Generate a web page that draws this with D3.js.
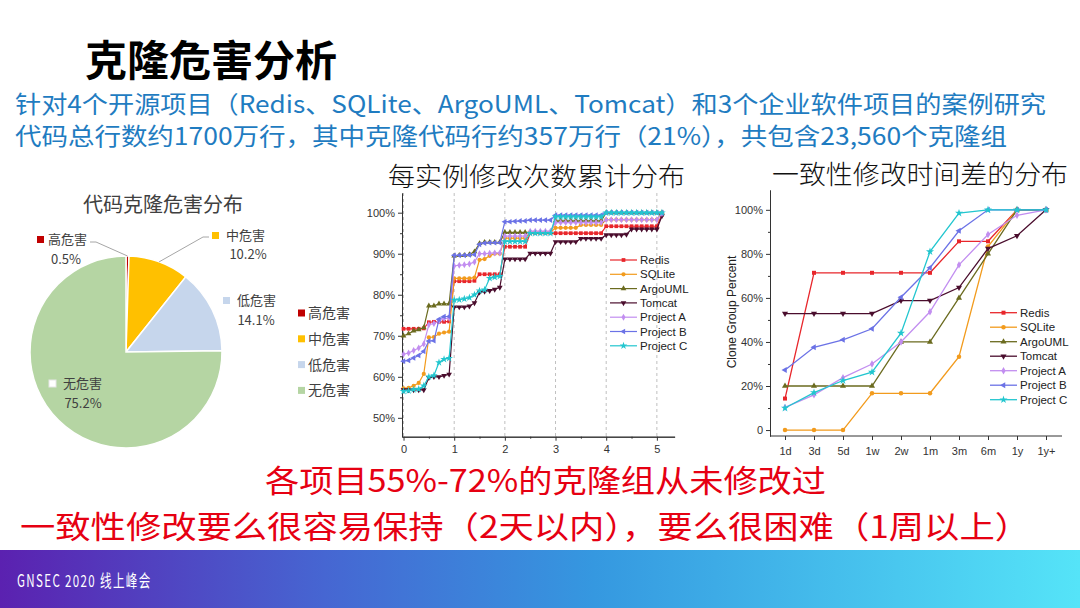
<!DOCTYPE html>
<html>
<head>
<meta charset="utf-8">
<script src="https://cdn.jsdelivr.net/npm/d3@7"></script>
<style>
body { margin: 0; background: #fff; }
svg { display: block; }
</style>
</head>
<body>
<svg id="slide" width="1080" height="608"></svg>
<script>
// ---- pie: harm distribution ----
var harmLevels = ["高危害", "中危害", "低危害", "无危害"];
var harmShare = [0.5, 10.2, 14.1, 75.2];
var harmColors = ["#c00000", "#ffc000", "#c6d6ec", "#b5d5a3"];

// ---- cumulative modifications per instance ----
var projects = ["Redis", "SQLite", "ArgoUML", "Tomcat", "Project A", "Project B", "Project C"];
var projColors = ["#e8262b", "#f29b1d", "#6b6b1f", "#4a0d2d", "#c28ef0", "#6b72e6", "#22c6cf"];
var editCount = [0, 0.1, 0.2, 0.3, 0.4, 0.5, 0.6, 0.7, 0.8, 0.9,
                 1, 1.1, 1.2, 1.3, 1.4, 1.5, 1.6, 1.7, 1.8, 1.9,
                 2, 2.1, 2.2, 2.3, 2.4, 2.5, 2.6, 2.7, 2.8, 2.9,
                 3, 3.1, 3.2, 3.3, 3.4, 3.5, 3.6, 3.7, 3.8, 3.9,
                 4, 4.1, 4.2, 4.3, 4.4, 4.5, 4.6, 4.7, 4.8, 4.9,
                 5, 5.1];
var redisCum = [71.7, 71.7, 71.7, 71.7, 71.8, 73.3, 73.4, 73.4, 73.4, 73.5,
                83.3, 83.3, 83.3, 83.3, 83.4, 85.0, 85.0, 85.0, 85.0, 85.0,
                91.7, 91.7, 91.7, 91.7, 91.7, 95.0, 95.0, 95.0, 95.0, 95.0,
                95.0, 95.0, 95.0, 95.0, 95.0, 95.0, 95.0, 95.0, 95.0, 95.0,
                96.7, 96.7, 96.7, 96.7, 96.7, 96.7, 96.7, 96.7, 96.7, 96.7,
                96.7, 99.5];
var sqliteCum = [57.2, 57.3, 57.8, 58.5, 60.7, 69.6, 69.7, 70.5, 70.8, 71.0,
                 84.0, 84.0, 84.0, 84.0, 84.2, 88.5, 88.7, 89.5, 90.0, 90.0,
                 93.8, 93.8, 93.8, 93.8, 93.8, 95.2, 95.2, 95.2, 95.2, 95.2,
                 96.3, 96.3, 96.3, 96.3, 96.3, 97.0, 97.0, 97.0, 97.0, 97.0,
                 98.3, 98.3, 98.3, 98.3, 98.3, 98.3, 98.3, 98.3, 98.3, 98.3,
                 98.3, 100];
var argoCum = [70.0, 70.5, 71.2, 71.5, 72.0, 77.3, 77.3, 77.8, 77.8, 77.8,
               89.5, 89.6, 89.6, 89.8, 90.5, 92.5, 92.8, 92.8, 92.8, 92.8,
               95.2, 95.2, 95.2, 95.2, 95.2, 95.2, 95.2, 95.2, 95.2, 95.2,
               98.0, 98.0, 98.0, 98.0, 98.0, 98.0, 98.0, 98.0, 98.0, 98.0,
               100, 100, 100, 100, 100, 100, 100, 100, 100, 100,
               100, 100];
var tomcatCum = [56.8, 56.8, 56.8, 56.8, 56.8, 59.8, 60.0, 60.0, 60.3, 60.6,
                 77.0, 77.0, 77.0, 77.2, 78.0, 80.6, 80.8, 81.0, 81.3, 81.8,
                 88.7, 88.7, 88.7, 88.7, 88.7, 90.1, 90.1, 90.1, 90.1, 90.1,
                 92.9, 92.9, 92.9, 92.9, 92.9, 93.7, 93.7, 93.7, 93.7, 93.7,
                 94.6, 94.6, 94.6, 94.6, 94.7, 96.0, 96.0, 96.0, 96.0, 96.0,
                 96.0, 99.2];
var projACum = [65.5, 65.8, 66.4, 67.0, 68.0, 72.7, 73.0, 73.6, 74.2, 74.3,
                87.0, 87.2, 87.3, 87.5, 88.0, 90.0, 90.0, 90.1, 90.2, 90.2,
                94.3, 94.3, 94.3, 94.3, 94.3, 95.5, 95.5, 95.5, 95.5, 95.5,
                97.6, 97.6, 97.6, 97.6, 97.6, 97.6, 97.6, 97.6, 97.6, 97.6,
                98.3, 98.3, 98.3, 98.3, 98.3, 98.3, 98.3, 98.3, 98.3, 98.3,
                98.3, 99.8];
var projBCum = [63.8, 64.0, 64.6, 65.2, 66.2, 68.7, 68.8, 74.0, 74.7, 74.7,
                89.6, 89.6, 89.6, 89.7, 89.8, 92.3, 92.6, 92.7, 92.7, 92.7,
                97.8, 97.8, 97.9, 98.0, 98.0, 98.2, 98.2, 98.2, 98.2, 98.2,
                99.4, 99.4, 99.4, 99.4, 99.4, 99.4, 99.4, 99.4, 99.4, 99.4,
                100, 100, 100, 100, 100, 100, 100, 100, 100, 100,
                100, 100];
var projCCum = [56.5, 56.6, 56.9, 57.0, 57.8, 60.0, 60.3, 63.5, 64.3, 64.5,
                78.7, 78.8, 79.0, 79.3, 80.0, 81.0, 81.2, 84.0, 84.3, 84.5,
                93.0, 93.0, 93.0, 93.0, 93.0, 95.0, 95.0, 95.0, 95.0, 95.0,
                99.0, 99.0, 99.0, 99.0, 99.0, 99.0, 99.0, 99.0, 99.0, 99.0,
                100, 100, 100, 100, 100, 100, 100, 100, 100, 100,
                100, 100];
var cumSeries = [redisCum, sqliteCum, argoCum, tomcatCum, projACum, projBCum, projCCum];
var cumXTicks = [0, 1, 2, 3, 4, 5];
var cumYTicks = [50, 60, 70, 80, 90, 100];

// ---- time lag of consistent changes ----
var lagBins = ["1d", "3d", "5d", "1w", "2w", "1m", "3m", "6m", "1y", "1y+"];
var redisLag = [14.3, 71.4, 71.4, 71.4, 71.4, 71.4, 85.7, 85.7, 100, 100];
var sqliteLag = [0, 0, 0, 16.7, 16.7, 16.7, 33.3, 83.3, 100, 100];
var argoLag = [20, 20, 20, 20, 40, 40, 60, 80, 100, 100];
var tomcatLag = [52.9, 52.9, 52.9, 52.9, 58.8, 58.8, 64.7, 82.4, 88.2, 100];
var projALag = [10.3, 16.0, 23.8, 30.0, 40.0, 53.7, 75.0, 88.8, 97.5, 100];
var projBLag = [27.3, 37.6, 41.0, 46.0, 60.3, 73.7, 90.5, 100, 100, 100];
var projCLag = [10.0, 17.0, 22.5, 26.3, 44.0, 81.0, 98.5, 100, 100, 100];
var lagSeries = [redisLag, sqliteLag, argoLag, tomcatLag, projALag, projBLag, projCLag];
var lagYTicks = [0, 20, 40, 60, 80, 100];

var cjk = "'Noto Sans CJK SC', 'Noto Sans', sans-serif";
var latin = "'Liberation Sans', Arial, sans-serif";
var svg = d3.select("#slide");

// marker shapes per project
var symTypes = [d3.symbolSquare, d3.symbolCircle, d3.symbolTriangle, d3.symbolTriangle,
                d3.symbolDiamond, d3.symbolTriangle, d3.symbolStar];
var symRot = [0, 0, 0, 180, 0, -90, 0];

// ---- headings ----
svg.append("text")
    .attr("x", 85).attr("y", 76)
    .attr("font-family", cjk).attr("font-weight", 700).attr("font-size", 42)
    .attr("fill", "#000")
    .text("克隆危害分析");

var blueLines = [
    {t: "针对4个开源项目（Redis、SQLite、ArgoUML、Tomcat）和3个企业软件项目的案例研究", y: 113, w: 1031},
    {t: "代码总行数约1700万行，其中克隆代码行约357万行（21%），共包含23,560个克隆组", y: 145, w: 992}
];
blueLines.forEach(function(l) {
    svg.append("text")
        .attr("x", 15).attr("y", l.y)
        .attr("font-family", cjk).attr("font-size", 24)
        .attr("fill", "#1f7cc1")
        .attr("textLength", l.w).attr("lengthAdjust", "spacingAndGlyphs")
        .text(l.t);
});

// ---- pie ----
svg.append("text")
    .attr("x", 163).attr("y", 212).attr("text-anchor", "middle")
    .attr("font-family", cjk).attr("font-size", 20).attr("fill", "#404040")
    .text("代码克隆危害分布");

var pieG = svg.append("g").attr("transform", "translate(126,352)");
var slices = d3.pie().sort(null)(harmShare);
var arc = d3.arc().innerRadius(0).outerRadius(96);
var rim = d3.arc().innerRadius(96).outerRadius(96);
pieG.selectAll("path").data(slices).join("path")
    .attr("d", arc)
    .attr("fill", function(d, i) { return harmColors[i]; })
    .attr("stroke", "#fff").attr("stroke-width", 1.5);

// label placement (slide coordinates)
var pieLabels = [
    {mx: 40, tx: 48, ty: 244, px: 66, py: 264, elbow: [[96, 242], [90, 242]]},
    {mx: 215, tx: 226, ty: 240, px: 248, py: 259, elbow: [[203, 237], [209, 237]]},
    {mx: 226, tx: 237, ty: 305, px: 256, py: 325, elbow: null},
    {mx: 52, tx: 63, ty: 388, px: 83, py: 408, elbow: null}
];
pieLabels.forEach(function(l, i) {
    if (l.elbow) {
        var c = rim.centroid(slices[i]);
        var pts = [[126 + c[0], 352 + c[1]]].concat(l.elbow);
        svg.append("path")
            .attr("d", d3.line()(pts))
            .attr("fill", "none").attr("stroke", "#a6a6a6").attr("stroke-width", 1);
    }
    svg.append("rect")
        .attr("x", l.mx - 3).attr("y", l.ty - 8).attr("width", 7).attr("height", 7)
        .attr("fill", i == 3 ? "#fff" : harmColors[i])
        .attr("stroke", i == 3 ? "#e6e6e6" : "none");
    svg.append("text")
        .attr("x", l.tx).attr("y", l.ty)
        .attr("font-family", cjk).attr("font-size", 13).attr("fill", "#404040")
        .text(harmLevels[i]);
    svg.append("text")
        .attr("x", l.px).attr("y", l.py).attr("text-anchor", "middle")
        .attr("font-family", cjk).attr("font-size", 13).attr("fill", "#404040")
        .text(harmShare[i] + "%");
});

harmLevels.forEach(function(h, i) {
    var y = 313 + i * 25.8;
    svg.append("rect")
        .attr("x", 298).attr("y", y - 3.5).attr("width", 7).attr("height", 7)
        .attr("fill", harmColors[i]);
    svg.append("text")
        .attr("x", 308).attr("y", y + 5)
        .attr("font-family", cjk).attr("font-size", 14).attr("fill", "#404040")
        .text(h);
});

// ---- cumulative chart ----
svg.append("text")
    .attr("x", 388).attr("y", 186)
    .attr("font-family", cjk).attr("font-weight", 300).attr("font-size", 26)
    .attr("fill", "#111")
    .attr("textLength", 297).attr("lengthAdjust", "spacingAndGlyphs")
    .text("每实例修改次数累计分布");

var cx = d3.scaleLinear().domain([-0.03, 5.35]).range([402, 674.6]);
var cy = d3.scaleLinear().domain([45.4, 104.8]).range([436.7, 193]);
var cumG = svg.append("g");

cumG.selectAll("line.grid").data(cumXTicks).join("line")
    .attr("class", "grid")
    .attr("x1", function(d) { return cx(d); }).attr("x2", function(d) { return cx(d); })
    .attr("y1", 193).attr("y2", 436.7)
    .attr("stroke", "#b0b0b0").attr("stroke-width", 0.8).attr("stroke-dasharray", "3,3");

cumG.append("g").attr("transform", "translate(402,0)")
    .call(d3.axisLeft(cy).tickValues(cumYTicks).tickSize(4).tickSizeOuter(0)
        .tickFormat(function(d) { return d + "%"; }));
cumG.append("g").attr("transform", "translate(402,0)")
    .call(d3.axisLeft(cy).tickValues([55, 65, 75, 85, 95]).tickSize(2).tickSizeOuter(0).tickFormat(""));
cumG.append("g").attr("transform", "translate(0,436.7)")
    .call(d3.axisBottom(cx).tickValues(cumXTicks).tickSize(4).tickSizeOuter(0).tickPadding(5)
        .tickFormat(d3.format("d")));
cumG.append("g").attr("transform", "translate(0,436.7)")
    .call(d3.axisBottom(cx).tickValues([0.5, 1.5, 2.5, 3.5, 4.5]).tickSize(2).tickSizeOuter(0).tickFormat(""));

cumG.selectAll(".domain, .tick line").attr("stroke", "#333");
cumG.selectAll(".tick text").attr("font-family", latin).attr("font-size", 11).attr("fill", "#333");

var cumLine = d3.line()
    .x(function(d, i) { return cx(editCount[i]); })
    .y(function(d) { return cy(d); });

cumSeries.forEach(function(s, k) {
    var g = cumG.append("g");
    g.append("path").attr("d", cumLine(s))
        .attr("fill", "none").attr("stroke", projColors[k]).attr("stroke-width", 1.2);
    g.selectAll("path.m").data(s).join("path")
        .attr("class", "m")
        .attr("d", d3.symbol().type(symTypes[k]).size(k == 6 ? 18 : 14))
        .attr("transform", function(d, i) {
            return "translate(" + cx(editCount[i]) + "," + cy(d) + ") rotate(" + symRot[k] + ")";
        })
        .attr("fill", projColors[k]);
});

projects.forEach(function(p, k) {
    var y = 260 + k * 14.3;
    cumG.append("line").attr("x1", 610).attr("x2", 637).attr("y1", y).attr("y2", y)
        .attr("stroke", projColors[k]).attr("stroke-width", 1.2);
    cumG.append("path")
        .attr("d", d3.symbol().type(symTypes[k]).size(k == 6 ? 18 : 14))
        .attr("transform", "translate(623.5," + y + ") rotate(" + symRot[k] + ")")
        .attr("fill", projColors[k]);
    cumG.append("text").attr("x", 640).attr("y", y + 4)
        .attr("font-family", latin).attr("font-size", 11.5).attr("fill", "#222")
        .text(p);
});

// ---- time lag chart ----
svg.append("text")
    .attr("x", 772).attr("y", 184)
    .attr("font-family", cjk).attr("font-weight", 300).attr("font-size", 26)
    .attr("fill", "#111")
    .attr("textLength", 296).attr("lengthAdjust", "spacingAndGlyphs")
    .text("一致性修改时间差的分布");

var lx = d3.scalePoint().domain(lagBins).range([785, 1046]);
var ly = d3.scaleLinear().domain([-2.7, 109]).range([436, 190]);
var lagG = svg.append("g");

lagG.append("g").attr("transform", "translate(770,0)")
    .call(d3.axisLeft(ly).tickValues(lagYTicks).tickSize(4).tickSizeOuter(0)
        .tickFormat(function(d) { return d == 0 ? "0" : d + "%"; }));
lagG.append("g").attr("transform", "translate(770,0)")
    .call(d3.axisLeft(ly).tickValues([10, 30, 50, 70, 90]).tickSize(2).tickSizeOuter(0).tickFormat(""));
lagG.append("line").attr("x1", 770).attr("x2", 1062).attr("y1", 436).attr("y2", 436)
    .attr("stroke", "#333");
lagG.append("g").attr("transform", "translate(0,436)")
    .call(d3.axisBottom(lx).tickSize(4).tickSizeOuter(0).tickPadding(7))
    .select(".domain").remove();

lagG.selectAll(".domain, .tick line").attr("stroke", "#333");
lagG.selectAll(".tick text").attr("font-family", latin).attr("font-size", 11).attr("fill", "#333");

lagG.append("text")
    .attr("transform", "translate(736,312) rotate(-90)")
    .attr("text-anchor", "middle")
    .attr("font-family", latin).attr("font-size", 12).attr("fill", "#222")
    .text("Clone Group Percent");

var lagLine = d3.line()
    .x(function(d, i) { return lx(lagBins[i]); })
    .y(function(d) { return ly(d); });

lagSeries.forEach(function(s, k) {
    var g = lagG.append("g");
    g.append("path").attr("d", lagLine(s))
        .attr("fill", "none").attr("stroke", projColors[k]).attr("stroke-width", 1.3);
    g.selectAll("path.m").data(s).join("path")
        .attr("class", "m")
        .attr("d", d3.symbol().type(symTypes[k]).size(k == 6 ? 20 : 16))
        .attr("transform", function(d, i) {
            return "translate(" + lx(lagBins[i]) + "," + ly(d) + ") rotate(" + symRot[k] + ")";
        })
        .attr("fill", projColors[k]);
});

projects.forEach(function(p, k) {
    var y = 312.7 + k * 14.5;
    lagG.append("line").attr("x1", 990).attr("x2", 1017).attr("y1", y).attr("y2", y)
        .attr("stroke", projColors[k]).attr("stroke-width", 1.3);
    lagG.append("path")
        .attr("d", d3.symbol().type(symTypes[k]).size(k == 6 ? 20 : 16))
        .attr("transform", "translate(1003.5," + y + ") rotate(" + symRot[k] + ")")
        .attr("fill", projColors[k]);
    lagG.append("text").attr("x", 1020).attr("y", y + 4)
        .attr("font-family", latin).attr("font-size", 11.5).attr("fill", "#222")
        .text(p);
});

// ---- conclusions ----
svg.append("text")
    .attr("x", 265).attr("y", 492)
    .attr("font-family", cjk).attr("font-size", 31).attr("fill", "#e60012")
    .attr("textLength", 561).attr("lengthAdjust", "spacingAndGlyphs")
    .text("各项目55%-72%的克隆组从未修改过");
svg.append("text")
    .attr("x", 20).attr("y", 538)
    .attr("font-family", cjk).attr("font-size", 31).attr("fill", "#e60012")
    .attr("textLength", 1010).attr("lengthAdjust", "spacingAndGlyphs")
    .text("一致性修改要么很容易保持（2天以内），要么很困难（1周以上）");

// ---- footer band ----
var grad = svg.append("defs").append("linearGradient").attr("id", "band");
grad.append("stop").attr("offset", "0%").attr("stop-color", "#5b21b0");
grad.append("stop").attr("offset", "30%").attr("stop-color", "#4666d2");
grad.append("stop").attr("offset", "55%").attr("stop-color", "#3598e0");
grad.append("stop").attr("offset", "100%").attr("stop-color", "#55e4f8");
svg.append("rect").attr("x", 0).attr("y", 550).attr("width", 1080).attr("height", 58)
    .attr("fill", "url(#band)");
// condensed, letter-spaced footer label
svg.append("text")
    .attr("transform", "translate(17,587) scale(0.68,1)")
    .attr("font-family", "'Noto Sans CJK SC', sans-serif").attr("font-weight", 400)
    .attr("font-size", 17).attr("fill", "#fff")
    .attr("letter-spacing", 3)
    .attr("textLength", 199).attr("lengthAdjust", "spacing")
    .text("GNSEC 2020 线上峰会");
</script>
</body>
</html>
